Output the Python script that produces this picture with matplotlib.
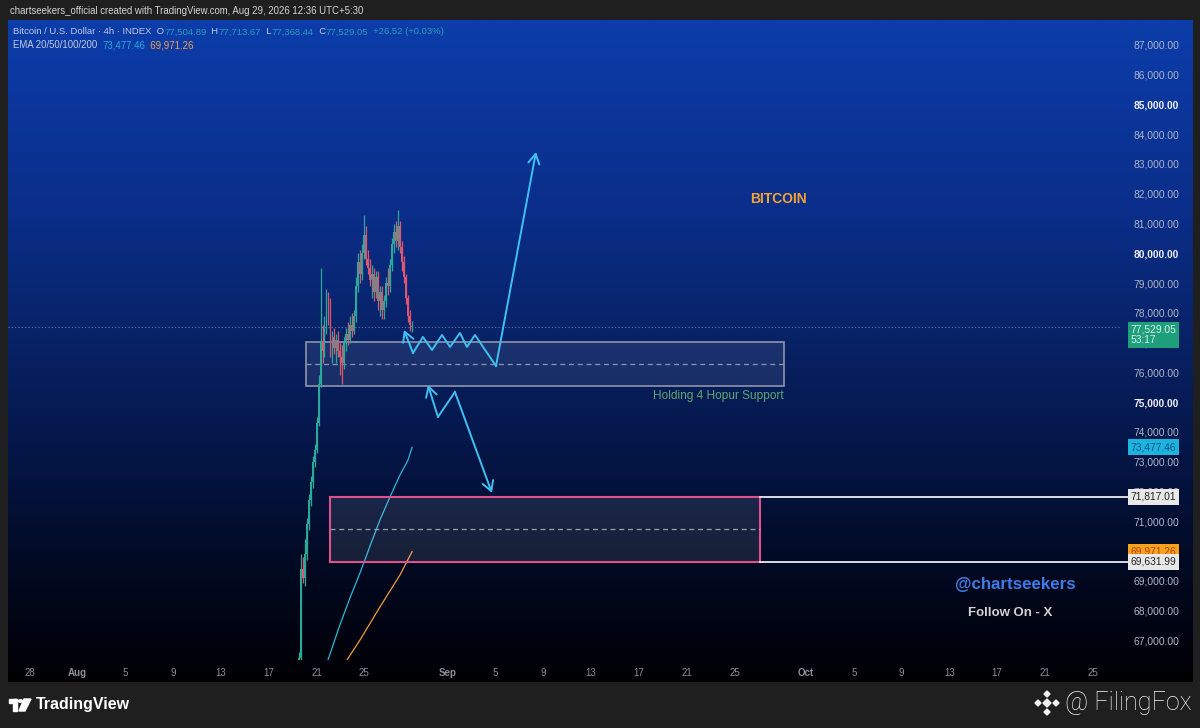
import matplotlib.pyplot as plt
import numpy as np
from matplotlib.colors import LinearSegmentedColormap
from matplotlib.patches import Rectangle, Polygon, Circle
import matplotlib.transforms as mtransforms

plt.rcParams['font.family'] = ['Liberation Sans', 'DejaVu Sans']

# ---- data (days counted from Aug 1, prices in USD) ----
candle_start = 18.5          # first 4h candle: Aug 19 12:00
candle_step = 1 / 6
opens = [65800, 66400, 69400, 69100, 69900, 70900, 71700, 72300, 73000, 73400,
         74300, 75600, 77000, 76700, 77600, 78300, 78100, 76900, 77200, 76800,
         77100, 76700, 76500, 76300, 77000, 77300, 77100, 77600, 77400, 77900,
         78900, 79700, 79300, 80000, 80600, 79800, 79500, 79100, 79300, 78700,
         79200, 78400, 78700, 78100, 78400, 79000, 78900, 79600, 80300, 80700,
         80400, 80900, 80200, 79700, 79200, 78500, 77900, 77504.89]
highs = [66600, 69900, 69800, 70400, 71100, 71900, 72500, 73200, 73600, 74500,
         75900, 79500, 77600, 77900, 78800, 78700, 78500, 77400, 77500, 77300,
         77400, 77000, 76900, 77200, 77500, 77700, 77900, 78000, 78100, 79200,
         80000, 80100, 80300, 81300, 80900, 80100, 79800, 79600, 79500, 79400,
         79400, 78900, 78900, 78600, 79200, 79500, 79800, 80500, 81000, 81100,
         81450, 81100, 80400, 79900, 79300, 78600, 78100, 77713.67]
lows = [65700, 66300, 68900, 68800, 69700, 70700, 71500, 72100, 72800, 73300,
        74200, 75500, 76300, 76500, 77300, 77600, 76500, 76300, 76600, 76300,
        76500, 75900, 75600, 76100, 76700, 76900, 77000, 77200, 77300, 77700,
        78700, 79000, 79100, 79800, 79600, 79300, 78900, 78500, 78400, 78500,
        78100, 77900, 77800, 77800, 78200, 78600, 78700, 79400, 80000, 80200,
        80100, 80000, 79400, 79000, 78300, 77700, 77400, 77368.44]
closes = [66400, 69400, 69100, 69900, 70900, 71700, 72300, 73000, 73400, 74300,
          75600, 77000, 76700, 77600, 78300, 78000, 76900, 77200, 76800, 77100,
          76700, 76500, 76300, 77000, 77300, 77100, 77600, 77400, 77900, 78900,
          79700, 79300, 80000, 80600, 79800, 79500, 79100, 79300, 78700, 79200,
          78400, 78700, 78100, 78400, 79000, 78900, 79600, 80300, 80700, 80400,
          80900, 80200, 79700, 79200, 78500, 77900, 77600, 77529.05]

ema_fast_days = [20.6, 20.96, 21.96, 22.8, 23.64, 24.48, 25.31, 26.15, 26.99, 27.66, 28.0]
ema_fast = [65900, 66330, 67510, 68414, 69254, 70160, 71035, 71808, 72545, 73050, 73477.46]
ema_slow_days = [22.2, 22.55, 23.64, 25.31, 26.99, 28.0]
ema_slow = [66100, 66330, 67000, 68111, 69187, 69971.26]

last_price = 77529.05
support_box = (19.12, 59.15, 75539, 77018)       # start, end, bottom, top
target_box = (21.13, 57.14, 69631.99, 71817.01)

path_up = [(28.08, 76648), (28.91, 77186), (29.67, 76749), (30.51, 77253),
           (31.18, 76850), (32.01, 77320), (32.60, 76850), (33.27, 77253), (35.03, 76211)]
path_up_start = (27.32, 77421)
path_up_end = (38.38, 83404)
path_down = [(30.17, 74497), (31.59, 75337)]
path_down_start = (29.33, 75573)
path_down_end = (34.69, 71943)

price_ticks = [67000, 68000, 69000, 70000, 71000, 72000, 73000, 74000, 75000, 76000, 77000,
               78000, 79000, 80000, 81000, 82000, 83000, 84000, 85000, 86000, 87000]
bold_ticks = [75000, 80000, 85000]
hidden_ticks = [70000]       # fully covered by the EMA badge in the original
date_ticks = [-4, 0, 4, 8, 12, 16, 20, 24, 31, 35, 39, 43, 47, 51, 55, 61, 65, 69, 73, 77, 81, 85]
date_labels = ['28', 'Aug', '5', '9', '13', '17', '21', '25', 'Sep', '5', '9', '13', '17', '21',
               '25', 'Oct', '5', '9', '13', '17', '21', '25']

W, H = 1200, 728
fig = plt.figure(figsize=(12, 7.28), dpi=100, facecolor='#1f1f1f')


def fx(x):
    return x / W


def fy(y):
    return 1 - y / H


# gradient panel
bg = fig.add_axes([fx(8), fy(682), (1193 - 8) / W, (682 - 20) / H])
cmap = LinearSegmentedColormap.from_list('tv', [(0, '#0c3daa'), (0.3, '#0a2d88'), (0.48, '#082266'),
                                                (0.64, '#05174a'), (0.8, '#020b27'), (1, '#000003')])
bg.imshow(np.linspace(0, 1, 256).reshape(-1, 1), aspect='auto', cmap=cmap,
          extent=[0, 1, 0, 1], origin='upper')
bg.set_xlim(0, 1)
bg.set_ylim(0, 1)
bg.axis('off')

ax = fig.add_axes([fx(8), fy(660), (1120 - 8) / W, (660 - 22) / H])
ax.set_facecolor('none')
ax.set_xlim(-5.84, 87.29)
ax.set_ylim(66328, 87773)
for s in ax.spines.values():
    s.set_visible(False)

# candles
days = candle_start + candle_step * np.arange(len(closes))
o = np.array(opens)
c = np.array(closes)
cols = np.where(c >= o, '#2aa898', '#e0566e')
ax.vlines(days, lows, highs, colors=cols, lw=0.9, zorder=3)
ax.bar(days, np.maximum(np.abs(c - o), 40), bottom=np.minimum(o, c), width=0.16, color=cols, zorder=3)

# EMAs
ax.plot(ema_fast_days, ema_fast, color='#2cb7d8', lw=0.9, zorder=2)
ax.plot(ema_slow_days, ema_slow, color='#f39a3c', lw=0.9, zorder=2)

# last price line
ax.axhline(last_price, color='#7f92b8', lw=0.8, ls=(0, (1, 2)), alpha=0.8, zorder=1)

# support box
x0, x1, b0, b1 = support_box
ax.add_patch(Rectangle((x0, b0), x1 - x0, b1 - b0, facecolor=(1, 1, 1, 0.08),
                       edgecolor='#8e95aa', lw=1.2, zorder=2))
ax.plot([x0, x1], [(b0 + b1) / 2] * 2, color='#8e95aa', lw=0.9, ls=(0, (4, 3)), zorder=2)

# target box
x0, x1, b0, b1 = target_box
ax.add_patch(Rectangle((x0, b0), x1 - x0, b1 - b0, facecolor=(1, 1, 1, 0.09),
                       edgecolor='#e0508c', lw=1.5, zorder=2))
ax.plot([x0, x1], [(b0 + b1) / 2] * 2, color='#9aa0b4', lw=0.9, ls=(0, (4, 3)), zorder=2)
for lvl in (b0, b1):
    ax.plot([x1, 87.95], [lvl, lvl], color='white', lw=1.2, clip_on=False, zorder=2)

# drawn arrows
arrow_col = '#3fc0f0'
aprops = dict(arrowstyle='->,head_length=0.7,head_width=0.4', color=arrow_col, lw=1.4,
              shrinkA=0, shrinkB=0)
px, py = zip(*path_up)
ax.plot(px, py, color=arrow_col, lw=1.4, zorder=4)
ax.annotate('', xy=path_up_start, xytext=path_up[0], arrowprops=aprops, zorder=4)
ax.annotate('', xy=path_up_end, xytext=path_up[-1], arrowprops=aprops, zorder=4)
px, py = zip(*path_down)
ax.plot(px, py, color=arrow_col, lw=1.4, zorder=4)
ax.annotate('', xy=path_down_start, xytext=path_down[0], arrowprops=aprops, zorder=4)
ax.annotate('', xy=path_down_end, xytext=path_down[-1], arrowprops=aprops, zorder=4)

# chart texts
ax.text(58.65, 81824, 'BITCOIN', color='#f5a431', fontsize=10, fontweight='bold', ha='center', va='center')
ax.text(59.15, 75203, 'Holding 4 Hopur Support', color='#5aa86e', fontsize=8.6, ha='right', va='center')
ax.text(78.5, 68850, '@chartseekers', color='#3f7be6', fontsize=12.2, fontweight='bold', ha='center', va='center')
ax.text(78.08, 67910, 'Follow On - X', color='#d2d2d2', fontsize=9.5, fontweight='bold', ha='center', va='center')

# axes ticks
ax.yaxis.tick_right()
ax.set_yticks(price_ticks)
ax.set_yticklabels(['' if v in hidden_ticks else f'{v:,.2f}' for v in price_ticks])
ax.tick_params(axis='y', length=0, pad=10, labelsize=7.4, labelcolor='#aeb6c8')
for lab, v in zip(ax.get_yticklabels(), price_ticks):
    if v in bold_ticks:
        lab.set_fontweight('bold')
        lab.set_color('#eef0f6')
ax.set_xticks(date_ticks)
ax.set_xticklabels(date_labels)
ax.tick_params(axis='x', length=0, pad=6, labelsize=7, labelcolor='#8c919c')
for lab, t in zip(ax.get_xticklabels(), date_labels):
    if not t.isdigit():
        lab.set_fontweight('bold')

# price badges on the axis
btr = mtransforms.blended_transform_factory(ax.transAxes, ax.transData)
badges = [(73477.46, '73,477.46', '#1ab4dc', '#134f8c'),
          (71817.01, '71,817.01', '#e8e8e8', '#222222'),
          (69971.26, '69,971.26', '#f7a21b', '#b4400f'),
          (69631.99, '69,631.99', '#e8e8e8', '#222222')]
for price, txt, fc, tc in badges:
    ax.text(1.0095, price, txt, transform=btr, fontsize=7.4, color=tc, ha='left', va='center',
            clip_on=False, zorder=10,
            bbox=dict(boxstyle='square,pad=0.28', fc=fc, ec='none'))
ax.annotate('77,529.05\n53:17', xy=(1.0095, last_price), xycoords=btr, xytext=(0, -6),
            textcoords='offset points', fontsize=7.4, color='#d8f3ea', ha='left', va='center',
            linespacing=1.05, annotation_clip=False, zorder=10,
            bbox=dict(boxstyle='square,pad=0.28', fc='#1f9e7c', ec='none'))

# header
fig.text(fx(10), fy(11), 'chartseekers_official created with TradingView.com, Aug 29, 2026 12:36 UTC+5:30',
         color='#d6d6d6', fontsize=6.9, va='center')


def chain(parts, x, y, size):
    t = bg.annotate(parts[0][0], xy=(fx(x), fy(y)), xycoords='figure fraction', color=parts[0][1],
                    fontsize=size, va='center', ha='left', annotation_clip=False)
    for s, col in parts[1:]:
        t = bg.annotate(s, xy=(1, 0), xycoords=t, color=col, fontsize=size, va='bottom', ha='left',
                        annotation_clip=False)


lc, vc = '#c3cbe0', '#2a9cb8'
chain([('Bitcoin / U.S. Dollar · 4h · INDEX  O', lc), ('77,504.89', vc), ('  H', lc), ('77,713.67', vc),
       ('  L', lc), ('77,368.44', vc), ('  C', lc), ('77,529.05', vc), ('  +26.52 (+0.03%)', vc)],
      13, 32, 6.8)
chain([('EMA 20/50/100/200  ', lc), ('73,477.46', '#2aa8e0'), ('  69,971.26', '#f0a050')], 13, 45, 6.9)

# footer: TradingView logo
fig.patches.append(Rectangle((fx(9), fy(703)), 8 / W, 4 / H, color='white', transform=fig.transFigure))
fig.patches.append(Rectangle((fx(13), fy(711)), 4 / W, 12 / H, color='white', transform=fig.transFigure))
fig.patches.append(Circle((fx(20.5), fy(701)), 2 / W, color='white', transform=fig.transFigure))
fig.patches.append(Polygon([(fx(24), fy(699)), (fx(31), fy(699)), (fx(25), fy(711)), (fx(19), fy(711))],
                           closed=True, color='white', transform=fig.transFigure))
fig.text(fx(36), fy(705), 'TradingView', color='white', fontsize=11.5, fontweight='bold', va='center')

# footer: FilingFox mark
cx, cy = 1047, 703


def diamond(x, y, r):
    return Polygon([(fx(x), fy(y - r)), (fx(x + r), fy(y)), (fx(x), fy(y + r)), (fx(x - r), fy(y))],
                   closed=True, color='#f2f2f2', transform=fig.transFigure)


fig.patches.append(diamond(cx, cy, 4))
for dx, dy in [(0, -9), (0, 9), (-9, 0), (9, 0)]:
    fig.patches.append(diamond(cx + dx, cy + dy, 3))
fig.text(fx(1192), fy(703), '@ FilingFox', color='#f2f2f2', fontsize=18, fontfamily='Roboto',
         fontweight='light', ha='right', va='center')

fig.savefig('out.png', dpi=100, facecolor=fig.get_facecolor())
